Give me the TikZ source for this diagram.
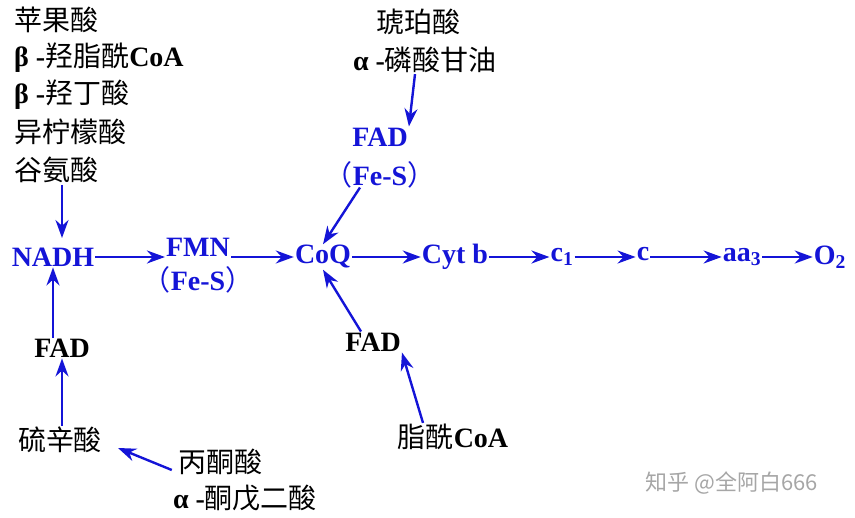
\documentclass[tikz,border=0pt]{standalone}
\usepackage{fontspec}
\setmainfont{Liberation Serif}
\newfontfamily\cjk{Noto Sans CJK SC}
\usetikzlibrary{arrows.meta}
\definecolor{dblue}{RGB}{20,20,215}
\begin{document}
\begin{tikzpicture}[x=1pt,y=-1pt,
  t/.style={inner sep=1pt,font=\fontsize{28}{30}\selectfont\bfseries},
  bl/.style={t,text=dblue},
  arr/.style={draw=dblue,line width=2.4pt,-{Stealth[length=18pt,width=13pt]}}]
\useasboundingbox (0,0) rectangle (855,518);
\node[t,anchor=west] (l1) at (13,20) {\cjk\mdseries 苹果酸};
\node[t,anchor=west] (l2) at (13,58) {β -\cjk\mdseries 羟脂酰\rmfamily\bfseries CoA};
\node[t,anchor=west] (l3) at (13,95) {β -\cjk\mdseries 羟丁酸};
\node[t,anchor=west] (l4) at (13,132) {\cjk\mdseries 异柠檬酸};
\node[t,anchor=west] (l5) at (13,170) {\cjk\mdseries 谷氨酸};
\node[t] (hp) at (418,22) {\cjk\mdseries 琥珀酸};
\node[t] (ap) at (425,60) {α -\cjk\mdseries 磷酸甘油};
\node[bl] (fad1) at (380,137) {FAD};
\node[bl] (fes1) at (380,175) {\cjk\mdseries（\rmfamily\bfseries Fe-S\cjk\mdseries ）};
\node[bl] (nadh) at (53,257) {NADH};
\node[bl] (fmn) at (198,247) {FMN};
\node[bl] (fes2) at (198,280) {\cjk\mdseries（\rmfamily\bfseries Fe-S\cjk\mdseries ）};
\node[bl] (coq) at (323,257) {CoQ};
\node[bl] (cytb) at (455,257) {Cyt b};
\node[bl] (c1) at (562,257) {c$_{\mathbf 1}$};
\node[bl] (c) at (643,254) {c};
\node[bl] (aa3) at (742,257) {aa$_{\mathbf 3}$};
\node[bl] (o2) at (830,257) {O$_{\mathbf 2}$};
\node[t] (fad2) at (62,348) {FAD};
\node[t] (ls) at (60,440) {\cjk\mdseries 硫辛酸};
\node[t] (bt) at (220,462) {\cjk\mdseries 丙酮酸};
\node[t] (ak) at (245,498) {α -\cjk\mdseries 酮戊二酸};
\node[t] (fad3) at (373,342) {FAD};
\node[t] (zx) at (453,437) {\cjk\mdseries 脂酰\rmfamily\bfseries CoA};
\node[inner sep=0,text=gray!70,font=\fontsize{22}{24}\selectfont] (wm) at (732,483) {\cjk 知乎 @全阿白666};
\coordinate (a0) at (62,185);
\draw[arr] (a0) -- (62,238);
\draw[arr] (fad2.north -| nadh) -- (nadh.south);
\draw[arr] (ls.north -| fad2) -- (fad2.south);
\draw[arr] (bt.west) ++(-5,8) -- (118,448);
\draw[arr] (nadh) -- (fmn.west |- nadh);
\draw[arr] (fmn.east |- coq) -- (coq);
\draw[arr] (ap.south) ++(-10,0) -- (fad1.north east);
\draw[arr] (fes1.south) ++(-20,-2) -- (coq.north);
\draw[arr] (coq) -- (cytb);
\draw[arr] (cytb) -- (c1);
\draw[arr] (c1) -- (c.west |- c1);
\draw[arr] (c.east |- c1) -- (aa3);
\draw[arr] (aa3) -- (o2);
\draw[arr] (fad3.north) ++(-12,0) -- (coq.south);
\draw[arr] (zx.north) ++(-30,0) -- (fad3.south east);
\end{tikzpicture}
\end{document}
